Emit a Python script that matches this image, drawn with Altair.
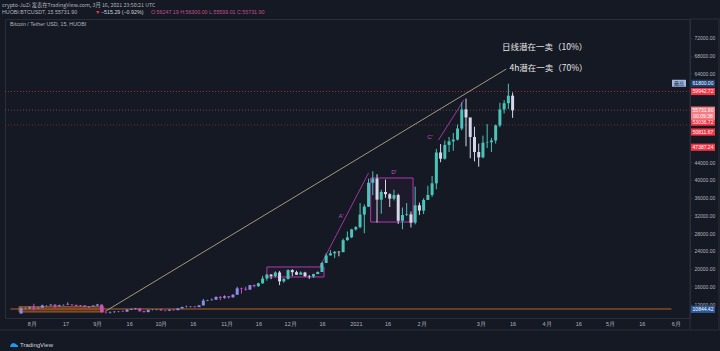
import altair as alt
import pandas as pd

# ---------------- data (2-day candles) ----------------
first_open = 9900
closes = [11100, 11100, 11350, 11050, 11200, 11750, 11750, 11900, 11550, 11780,
          11850, 11950, 11860, 11650, 11750, 11450, 11500, 11700, 11950, 10200,
          10150, 10250, 10340, 10400, 10330, 10780, 10940, 11080, 10420, 10230,
          10740, 10780, 10840, 10620, 10550, 10790, 10670, 11060, 11380, 11420,
          11500, 11360, 11750, 12820, 12930, 13030, 13650, 13450, 13800, 13550,
          14150, 15590, 15480, 15300, 16300, 16070, 16720, 17800, 18680, 18370,
          19160, 17150, 17720, 19700, 19220, 18650, 19150, 18320, 18250, 18800,
          19270, 21300, 23000, 23480, 23820, 23730, 26440, 27080, 28870, 29370,
          32200, 33990, 39370, 40300, 35570, 37300, 36800, 35800, 36600, 30800,
          32100, 32250, 30400, 34300, 33100, 35500, 36630, 39250, 46200, 44800,
          47900, 48700, 49100, 51600, 55900, 54100, 49700, 46300, 45100, 48400,
          48500, 48900, 52300, 55900, 57300, 59000, 55700]
highs = [11400, 11300, 11450, 12100, 11400, 11900, 11800, 12050, 12000, 11900,
         11950, 12470, 12000, 11900, 11800, 11700, 11550, 11750, 12070, 11850,
         10550, 10400, 10400, 10450, 10600, 10900, 11050, 11170, 11050, 10550,
         10780, 10800, 10900, 10950, 10650, 10800, 10800, 11100, 11450, 11700,
         11550, 11500, 11800, 13200, 13000, 13300, 13780, 13850, 14000, 13850,
         14250, 15950, 15750, 15950, 16350, 16450, 16850, 18400, 18800, 18800,
         19400, 19500, 17900, 19850, 19900, 19550, 19400, 19300, 18600, 18900,
         19400, 21550, 23500, 24200, 24000, 24000, 26800, 28400, 29000, 29600,
         34800, 34500, 40300, 41950, 41300, 37800, 40100, 37000, 37800, 36900,
         33800, 34800, 32900, 38500, 34900, 35900, 38700, 40900, 47000, 48100,
         48900, 49700, 50600, 52500, 57500, 58350, 51800, 52000, 48200, 50000,
         52600, 49500, 52500, 57400, 58000, 61700, 59700]
lows = [9950, 10850, 10900, 10600, 11000, 11300, 11500, 11650, 11150, 11500,
        11700, 11800, 11600, 11500, 11550, 11300, 11150, 11450, 11600, 10150,
        9900, 9900, 10050, 10200, 10250, 10300, 10700, 10800, 10350, 10150,
        10200, 10600, 10650, 10550, 10400, 10500, 10550, 10650, 11000, 11250,
        11300, 11250, 11350, 11700, 12700, 12800, 12980, 12900, 13250, 13250,
        13500, 14100, 14400, 15100, 15250, 15800, 15900, 16600, 17300, 17650,
        18050, 16300, 16850, 17550, 18350, 18600, 18700, 18200, 17700, 17950,
        18950, 19250, 21300, 23000, 22400, 22800, 24000, 26300, 26900, 28600,
        29100, 28000, 33900, 36600, 30400, 32400, 36000, 33900, 35400, 30100,
        28900, 31900, 29300, 30000, 32100, 32300, 35800, 36200, 37900, 44000,
        44600, 46300, 46600, 48900, 51200, 47600, 44900, 44200, 43000, 44900,
        47200, 46300, 48200, 51900, 55000, 56000, 54000]

# tick labels
x_ticks = [(2020, 8, 1), (2020, 8, 17), (2020, 9, 1), (2020, 9, 16), (2020, 10, 1),
           (2020, 10, 16), (2020, 11, 1), (2020, 11, 16), (2020, 12, 1), (2020, 12, 16),
           (2021, 1, 1), (2021, 1, 16), (2021, 2, 1), (2021, 3, 1), (2021, 3, 16),
           (2021, 4, 1), (2021, 4, 16), (2021, 5, 1), (2021, 5, 16), (2021, 6, 1)]
y_ticks = [12000, 16000, 20000, 24000, 28000, 32000, 36000, 40000, 44000, 64000, 68000, 72000]

# drawings (date, price)
trend_dates = ["2020-09-05T00:00", "2021-03-13T00:00"]
trend_prices = [10480, 65000]
orange_line_price = 10930
orange_line_dates = ["2020-07-22T00:00", "2021-05-30T00:00"]
orange_box = ("2020-07-26T00:00", "2020-09-04T00:00", 10250, 11450)
purple_boxes_x = [("2020-11-20T00:00", "2020-12-17T00:00"), ("2021-01-08T00:00", "2021-01-28T00:00")]
purple_boxes_y = [(18140, 20400), (30530, 40450)]
purple_lines = [("2020-12-15T00:00", 20400, "2021-01-07T00:00", 41580),
                ("2021-02-09T00:00", 49000, "2021-02-21T00:00", 58030)]
purple_labels = ["A'", "D'", "C'"]
purple_label_pos = [("2020-12-25T00:00", 31800), ("2021-01-19T00:00", 41900), ("2021-02-05T00:00", 49800)]
red_levels = [59942, 55731.9, 52400]
red_colors = ["#c0303c", "#8a5060", "#8a2a34"]

notes = ["日线潜在一卖（10%）", "4h潜在一卖（70%）"]
note_dates = ["2021-03-11T00:00", "2021-03-14T12:00"]
note_prices = [69970, 65240]

tag_prices = [61800, 59942.72, 53036.72, 50811.67, 47387.24, 10844.42]
tag_texts = ["61800.00", "59942.72", "53036.72", "50811.67", "47387.24", "10844.42"]
tag_colors = ["#1e3f74", "#f23645", "#f23645", "#f23645", "#f23645", "#2a5a9a"]
cur_price = 55731.90
cur_text = "55731.90"
cur_countdown = "00:09:38"

header1 = "crypto-JuZi 发表在TradingView.com, 3月 16, 2021 23:50:21 UTC"
header2a = "HUOBI:BTCUSDT, 15 55731.90"
header2b = "▼"
header2c = "−515.29 (−0.92%)"
header2d = "O:56247.19 H:56300.00 L:55599.01 C:55731.90"
legend_text = "Bitcoin / Tether USD, 15, HUOBI"

# ---------------- tables ----------------
dates = pd.date_range("2020-07-27", periods=len(closes), freq="2D")
opens = [first_open] + closes[:-1]
df = pd.DataFrame({
    "date": dates.strftime("%Y-%m-%dT%H:%M"),
    "open": opens, "close": closes, "high": highs, "low": lows,
})
late = dates >= pd.Timestamp("2020-11-15")
df["cat"] = [("late-" if l else "early-") + ("up" if c >= o else "down")
             for l, o, c in zip(late, opens, closes)]
cat_colors = {"early-up": "#8c8ce8", "early-down": "#c850c8",
              "late-up": "#4cc3b8", "late-down": "#d6d8ea"}

BG = "#151924"
GRID = "#2a2e39"
LBL = "#b2b5be"
FONT = "Liberation Sans"

xscale = alt.Scale(domain=[alt.DateTime(year=2020, month=7, date=21, hours=18),
                           alt.DateTime(year=2021, month=6, date=5, hours=9)])
yscale = alt.Scale(domain=[8900, 76280], nice=False, zero=False)

xaxis = alt.Axis(
    values=[alt.DateTime(year=y, month=m, date=d) for y, m, d in x_ticks],
    labelExpr="date(datum.value) == 1 ? (month(datum.value) == 0 ? '' + year(datum.value) : (month(datum.value) + 1) + '月') : '' + date(datum.value)",
    labelFontSize=5.5, labelColor=LBL, labelFont=FONT, tickSize=0, labelPadding=3,
    domain=False, grid=False, title=None, labelOverlap=False, labelFlush=False,
)
yaxis = alt.Axis(
    orient="right", values=y_ticks, format=".2f", labelFontSize=5, labelColor=LBL,
    labelFont=FONT, tickSize=2, tickColor=GRID, domain=False, grid=False, title=None,
    labelPadding=2, labelOverlap=False,
)

def X(f):
    return alt.X(f, scale=xscale, axis=xaxis)

def Y(f):
    return alt.Y(f, scale=yscale, axis=yaxis)

layers = []

# drawings below the candles
orange_box_df = pd.DataFrame({"x": [orange_box[0]], "x2": [orange_box[1]],
                              "y": [orange_box[2]], "y2": [orange_box[3]]})
layers.append(alt.Chart(orange_box_df).mark_rect(fill="#7a4220", fillOpacity=0.7, stroke="#c06a30", strokeWidth=0.8).encode(
    x=X("x:T"), x2="x2:T", y=Y("y:Q"), y2="y2:Q"))

oline_df = pd.DataFrame({"x": [orange_line_dates[0]], "x2": [orange_line_dates[1]], "y": [orange_line_price]})
layers.append(alt.Chart(oline_df).mark_rule(color="#b8632c", strokeWidth=1).encode(
    x=X("x:T"), x2="x2:T", y=Y("y:Q")))

for lvl, col in zip(red_levels, red_colors):
    layers.append(alt.Chart(pd.DataFrame({"p": [lvl]})).mark_rule(
        strokeDash=[1, 2], strokeWidth=0.8, color=col).encode(y=Y("p:Q")))

pbox_df = pd.DataFrame({"x": [b[0] for b in purple_boxes_x], "x2": [b[1] for b in purple_boxes_x],
                        "y": [b[0] for b in purple_boxes_y], "y2": [b[1] for b in purple_boxes_y]})
layers.append(alt.Chart(pbox_df).mark_rect(fill="#b03ab0", fillOpacity=0.06, stroke="#b03ab0", strokeWidth=1).encode(
    x=X("x:T"), x2="x2:T", y=Y("y:Q"), y2="y2:Q"))

pline_df = pd.DataFrame({"x": [l[0] for l in purple_lines], "y": [l[1] for l in purple_lines],
                         "x2": [l[2] for l in purple_lines], "y2": [l[3] for l in purple_lines]})
layers.append(alt.Chart(pline_df).mark_rule(color="#b03ab0", strokeWidth=0.9).encode(
    x=X("x:T"), x2="x2:T", y=Y("y:Q"), y2="y2:Q"))

trend_df = pd.DataFrame({"d": trend_dates, "p": trend_prices})
layers.append(alt.Chart(trend_df).mark_line(color="#c9b893", strokeWidth=0.8).encode(
    x=X("d:T"), y=Y("p:Q")))

# candles
for cat, col in cat_colors.items():
    sub = alt.Chart(df).transform_filter(alt.datum.cat == cat)
    layers.append(sub.mark_rule(strokeWidth=1, color=col).encode(
        x=X("date:T"), y=Y("low:Q"), y2="high:Q"))
    layers.append(sub.mark_bar(size=3, color=col).encode(
        x=X("date:T"), y=Y("open:Q"), y2="close:Q"))

plab_df = pd.DataFrame({"t": purple_labels, "d": [p[0] for p in purple_label_pos], "p": [p[1] for p in purple_label_pos]})
layers.append(alt.Chart(plab_df).mark_text(color="#c050c0", fontSize=6, font=FONT).encode(
    x=X("d:T"), y=Y("p:Q"), text="t:N"))

notes_df = pd.DataFrame({"t": notes, "d": note_dates, "p": note_prices})
layers.append(alt.Chart(notes_df).mark_text(align="left", baseline="middle", color="#e6e6e6",
                                            fontSize=8.5, font="Noto Sans CJK SC").encode(
    x=X("d:T"), y=Y("p:Q"), text="t:N"))

# price tags on the right scale
BOX = "M-1,-0.3L1,-0.3L1,0.3L-1,0.3Z"
for p, t, c in zip(tag_prices, tag_texts, tag_colors):
    tdf = pd.DataFrame({"p": [p], "t": [t]})
    layers.append(alt.Chart(tdf).mark_point(shape=BOX, filled=True, size=576, opacity=1,
                                            strokeWidth=0, color=c).encode(
        x=alt.value(698), y=Y("p:Q")))
    layers.append(alt.Chart(tdf).mark_text(color="white", fontSize=5, font=FONT, baseline="middle").encode(
        x=alt.value(698), y=Y("p:Q"), text="t:N"))

hi_df = pd.DataFrame({"p": [tag_prices[0]], "t": ["最高"]})
layers.append(alt.Chart(hi_df).mark_point(
    shape="M-1,-0.5L1,-0.5L1,0.5L-1,0.5Z", filled=True, size=196, opacity=1, color="#9fb8e0", strokeWidth=0).encode(
    x=alt.value(674), y=Y("p:Q")))
layers.append(alt.Chart(hi_df).mark_text(
    color="#1e2a44", fontSize=5, font="Noto Sans CJK SC", baseline="middle").encode(
    x=alt.value(674), y=Y("p:Q"), text="t:N"))

cur_df = pd.DataFrame({"p": [cur_price], "t": [cur_text], "t2": [cur_countdown]})
layers.append(alt.Chart(cur_df).mark_point(shape="M-1,-0.3L1,-0.3L1,0.8L-1,0.8Z", filled=True, size=576,
                                           opacity=1, color="#f27b84", strokeWidth=0).encode(
    x=alt.value(698), y=Y("p:Q")))
layers.append(alt.Chart(cur_df).mark_text(color="white", fontSize=5, font=FONT, baseline="middle").encode(
    x=alt.value(698), y=Y("p:Q"), text="t:N"))
layers.append(alt.Chart(cur_df).mark_text(color="white", fontSize=5, font=FONT, baseline="middle", dy=6).encode(
    x=alt.value(698), y=Y("p:Q"), text="t2:N"))

# chrome: header, legend, frame, footer
one = pd.DataFrame({"a": [0]})

def txt(s, x, y, col=LBL, size=5.3, font=FONT):
    return alt.Chart(one).mark_text(align="left", baseline="middle", color=col, fontSize=size, font=font).encode(
        x=alt.value(x), y=alt.value(y), text=alt.value(s))

layers += [
    txt(header1, -3, -14, font="Noto Sans CJK SC"),
    txt(header2a, -3, -7),
    txt(header2b, 90, -7, col="#f23645"),
    txt(header2c, 96, -7, col="#d1d4dc"),
    txt(header2d, 146, -7, col="#c2508a"),
    txt(legend_text, 5, 5, size=5.3),
    txt("TradingView", 15, 326, col="#d1d4dc", size=6),
]

def seg(x1, x2, y1, y2):
    return alt.Chart(one).mark_rule(color=GRID, strokeWidth=1).encode(
        x=alt.value(x1), x2=alt.value(x2), y=alt.value(y1), y2=alt.value(y2))

layers += [
    seg(-5, 715, 311, 311),
    seg(685, 715, 0, 0),
    seg(685, 685, 0, 311),
    seg(714, 714, 0, 311),
    alt.Chart(one).mark_point(shape="M-1,0.5L-0.8,-0.1L-0.3,-0.5L0.3,-0.4L0.6,-0.1L1,0.1L1,0.5Z",
                              filled=True, size=64, opacity=1, color="#2196f3", strokeWidth=0).encode(
        x=alt.value(9), y=alt.value(326)),
]

chart = alt.layer(*layers).properties(
    width=685, height=299,
    padding={"left": 5, "top": 19, "right": 30, "bottom": 33},
    autosize=alt.AutoSizeParams(type="none"),
    background=BG,
).configure_view(stroke=GRID, strokeWidth=1)

chart.save("out.html", embed_options={"renderer": "svg", "actions": False})
